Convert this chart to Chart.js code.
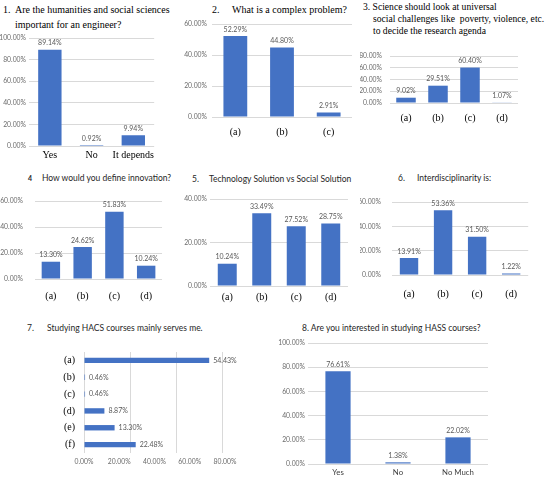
<!DOCTYPE html>
<html>
<head>
<meta charset="utf-8">
<script src="https://cdn.jsdelivr.net/npm/chart.js@4.4.1/dist/chart.umd.min.js"></script>
<style>
  html, body { margin: 0; padding: 0; background: #fff; }
  body { width: 550px; height: 479px; position: relative; overflow: hidden; }
  canvas { position: absolute; }
  .t { position: absolute; white-space: pre; line-height: 12px; }
  .serif { font-family: "Liberation Serif", serif; font-size: 10px; color: #000; }
  .sans { font-family: Lato, sans-serif; font-size: 8.5px; color: #262626; }
</style>
</head>
<body>

<div class="t serif" style="left:3px; top:4px;">1.  Are the humanities and social sciences</div>
<div class="t serif" style="left:15px; top:19px;">important for an engineer?</div>
<canvas id="q1" width="157" height="134" style="left:0px; top:30px;"></canvas>

<div class="t serif" style="left:212px; top:4px;">2.</div>
<div class="t serif" style="left:232px; top:4px;">What is a complex problem?</div>
<canvas id="q2" width="170" height="126" style="left:182px; top:15px;"></canvas>

<div class="t serif" style="left:363px; top:1px; font-size:9.6px;">3. Science should look at universal</div>
<div class="t serif" style="left:373px; top:13px; font-size:9.6px;">social challenges like  poverty, violence, etc.</div>
<div class="t serif" style="left:373px; top:25px; font-size:9.6px;">to decide the research agenda</div>
<canvas id="q3" width="158" height="83" style="left:360px; top:44px;"></canvas>

<div class="t sans" style="left:28px; top:172px; font-weight:bold; font-size:7px;">4</div>
<div class="t sans" style="left:42px; top:172px;">How would you define innovation?</div>
<canvas id="q4" width="163" height="120" style="left:0px; top:185px;"></canvas>

<div class="t sans" style="left:192px; top:173px;">5.</div>
<div class="t sans" style="left:209px; top:173px;">Technology Solution vs Social Solution</div>
<canvas id="q5" width="168" height="115" style="left:180px; top:191px;"></canvas>

<div class="t sans" style="left:398px; top:172px;">6.</div>
<div class="t sans" style="left:417px; top:172px;">Interdisciplinarity is:</div>
<canvas id="q6" width="170" height="116" style="left:360px; top:187px;"></canvas>

<div class="t sans" style="left:27px; top:322px;">7.</div>
<div class="t sans" style="left:47px; top:322px;">Studying HACS courses mainly serves me.</div>
<canvas id="q7" width="195" height="134" style="left:50px; top:337px;"></canvas>

<div class="t sans" style="left:302px; top:322px;">8. Are you interested in studying HASS courses?</div>
<canvas id="q8" width="213" height="146" style="left:275px; top:335px;"></canvas>

<script>
// survey answers, percent of respondents
const q1Labels = ["Yes", "No", "It depends"];
const q1Values = [89.14, 0.92, 9.94];

const q2Labels = ["(a)", "(b)", "(c)"];
const q2Values = [52.29, 44.80, 2.91];

const abcdLabels = ["(a)", "(b)", "(c)", "(d)"];
const q3Values = [9.02, 29.51, 60.40, 1.07];
const q4Values = [13.30, 24.62, 51.83, 10.24];
const q5Values = [10.24, 33.49, 27.52, 28.75];
const q6Values = [13.91, 53.36, 31.50, 1.22];

const q7Labels = ["(a)", "(b)", "(c)", "(d)", "(e)", "(f)"];
const q7Values = [54.43, 0.46, 0.46, 8.87, 13.30, 22.48];
const q7TickLabels = ["0.00%", "20.00%", "40.00%", "60.00%", "80.00%"];

const q8Labels = ["Yes", "No", "No Much"];
const q8Values = [76.61, 1.38, 22.02];

const blue = "#4472C4";
const gridColor = "#d9d9d9";
const tickColor = "#6b6b6b";
const tickFont = { family: "Lato", size: 6.8 };
const serifCat = { family: "Liberation Serif", size: 10 };
const sansCat = { family: "Lato", size: 7.8 };

// draws "xx.xx%" next to every bar
const valueLabels = {
  id: "valueLabels",
  afterDatasetsDraw(chart) {
    const ctx = chart.ctx;
    const horizontal = chart.options.indexAxis === "y";
    const values = chart.data.datasets[0].data;
    ctx.save();
    ctx.font = "7px Lato";
    ctx.fillStyle = "#595959";
    chart.getDatasetMeta(0).data.forEach(function (bar, i) {
      const text = values[i].toFixed(2) + "%";
      if (horizontal) {
        ctx.textAlign = "left";
        ctx.textBaseline = "middle";
        ctx.fillText(text, bar.x + 4, bar.y);
      } else {
        ctx.textAlign = "center";
        ctx.textBaseline = "bottom";
        ctx.fillText(text, bar.x, bar.y - 3);
      }
    });
    ctx.restore();
  },
};

function columnChart(id, labels, values, yMax, axisW, tickPad, axisH, catPad, barPct, catFont, catColor) {
  return new Chart(document.getElementById(id), {
    type: "bar",
    data: {
      labels: labels,
      datasets: [
        {
          data: values,
          backgroundColor: blue,
          barPercentage: barPct,
          categoryPercentage: 1,
        },
      ],
    },
    options: {
      responsive: false,
      animation: false,
      layout: { padding: { top: 8, right: 0, bottom: 0, left: 0 } },
      plugins: { legend: { display: false }, tooltip: { enabled: false } },
      scales: {
        x: {
          grid: { display: false, drawTicks: false },
          border: { display: false },
          ticks: { padding: catPad, color: catColor, font: catFont, maxRotation: 0, autoSkip: false },
          afterFit: function (s) { s.height = axisH; },
        },
        y: {
          min: 0,
          max: yMax,
          grid: { color: gridColor, drawTicks: false },
          border: { display: false },
          ticks: {
            stepSize: 20,
            autoSkip: false,
            padding: tickPad,
            color: tickColor,
            font: tickFont,
            callback: function (v) { return v.toFixed(2) + "%"; },
          },
          afterFit: function (s) { s.width = axisW; },
        },
      },
    },
    plugins: [valueLabels],
  });
}

columnChart("q1", q1Labels, q1Values, 100, 29, 3, 18, 3, 0.56, serifCat, "#000");
columnChart("q2", q2Labels, q2Values, 60, 30, 5, 24, 9, 0.51, serifCat, "#000");
columnChart("q3", abcdLabels, q3Values, 80, 30, 8, 24, 9, 0.61, serifCat, "#000");
columnChart("q4", abcdLabels, q4Values, 60, 35, 12, 26, 11, 0.58, serifCat, "#000");
columnChart("q5", abcdLabels, q5Values, 40, 30, 3, 20, 5, 0.55, serifCat, "#000");
columnChart("q6", abcdLabels, q6Values, 60, 32, 11, 28, 13, 0.54, serifCat, "#000");
columnChart("q8", q8Labels, q8Values, 100, 33, 3, 17, 4, 0.42, sansCat, "#404040");

// Question 7 horizontal bars, tick labels sit on their own axis
new Chart(document.getElementById("q7"), {
  type: "bar",
  data: {
    labels: q7Labels,
    datasets: [
      {
        data: q7Values,
        backgroundColor: blue,
        barPercentage: 0.32,
        categoryPercentage: 1,
      },
    ],
  },
  options: {
    indexAxis: "y",
    responsive: false,
    animation: false,
    layout: { padding: { top: 8, right: 20, bottom: 0, left: 0 } },
    plugins: { legend: { display: false }, tooltip: { enabled: false } },
    scales: {
      y: {
        grid: { display: false, drawTicks: false },
        border: { display: false },
        ticks: { padding: 9, color: "#000", font: serifCat, autoSkip: false },
        afterFit: function (s) { s.width = 34; },
      },
      x: {
        min: 0,
        max: 61.3,
        grid: { color: gridColor, drawTicks: false },
        border: { display: false },
        ticks: { display: false },
        afterBuildTicks: function (s) {
          s.ticks = [0, 20, 40, 60].map(function (v) { return { value: v }; });
        },
        afterFit: function (s) { s.height = 0; },
      },
      x2: {
        position: "bottom",
        min: 0,
        max: 80,
        grid: { display: false, drawTicks: false },
        border: { display: false },
        ticks: {
          padding: 5,
          color: tickColor,
          font: tickFont,
          stepSize: 20,
          autoSkip: false,
          maxRotation: 0,
          callback: function (v, i) { return q7TickLabels[i]; },
        },
        afterFit: function (s) { s.height = 18; },
      },
    },
  },
  plugins: [valueLabels],
});
</script>
</body>
</html>
